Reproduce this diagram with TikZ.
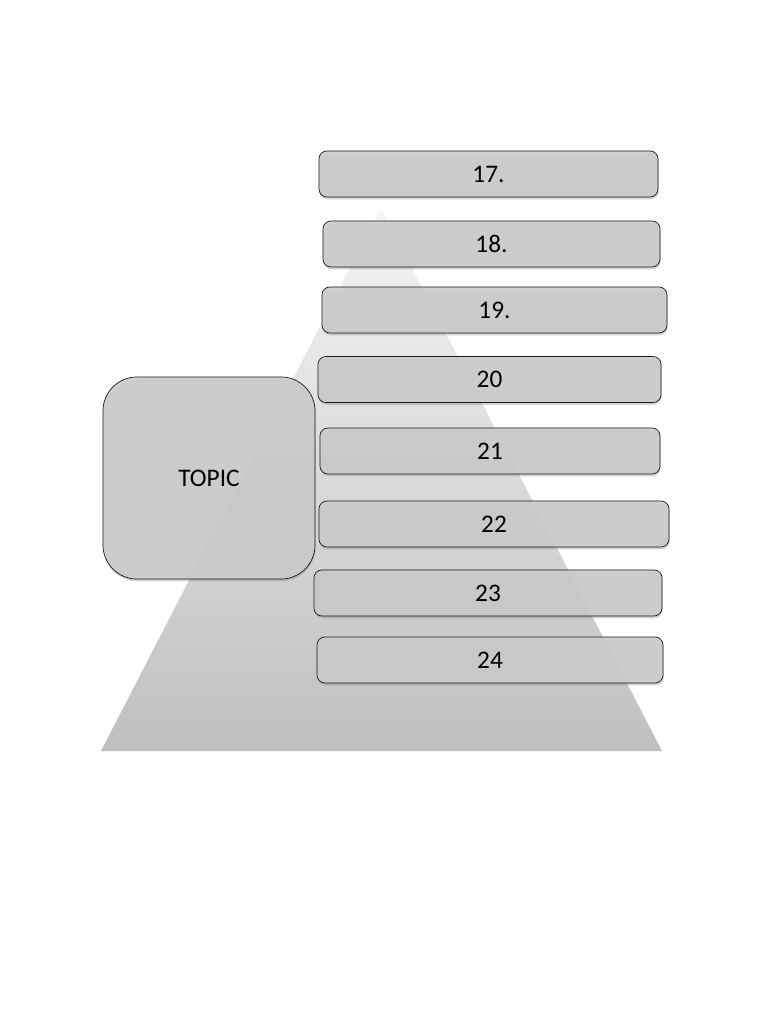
\documentclass[tikz,border=0pt]{standalone}
\usepackage{fontspec}
\setmainfont{Carlito}
\usetikzlibrary{shadows}
\begin{document}
\begin{tikzpicture}[x=0.025cm,y=-0.025cm]

		\tikzstyle{item}=[rectangle,rounded corners=0.2cm,
			fill=gray!40,fill opacity=0.88,text opacity=1,
			draw=black!90,line width=0.5pt,
			drop shadow={shadow xshift=0.4pt,shadow yshift=-1.6pt,opacity=0.35},
			minimum height=1.15cm,minimum width=8.5cm,
			font=\fontsize{18}{21}\selectfont,inner sep=0mm]
		\tikzstyle{topic}=[item,rounded corners=0.85cm,
			minimum height=5.05cm,minimum width=5.3cm]

		\useasboundingbox (0,0) rectangle (768,1024);

		% pyramid
		\coordinate (apex)	at (381,208);
		\coordinate (left)	at (101,751);
		\coordinate (right)	at (662,751);
		\shade[top color=gray!8,bottom color=gray!50]	(apex) -- (right) -- (left) -- cycle;

		\node[topic]	(topic)	at (209,478)	{TOPIC};

		\node[item,minimum width=8.475cm]	(n17)	at (488.5,174)	{17.};
		\node[item,minimum width=8.425cm]	(n18)	at (491.5,244)	{18.};
		\node[item,minimum width=8.625cm]	(n19)	at (494.5,310)	{19.};
		\node[item,minimum width=8.575cm]	(n20)	at (489.5,379.5)	{20};
		\node[item,minimum width=8.5cm]	(n21)	at (490,451)	{21};
		\node[item,minimum width=8.75cm]	(n22)	at (494,524)	{22};
		\node[item,minimum width=8.7cm]	(n23)	at (488,593)	{23};
		\node[item,minimum width=8.65cm]	(n24)	at (490,660)	{24};

	\end{tikzpicture}
\end{document}
